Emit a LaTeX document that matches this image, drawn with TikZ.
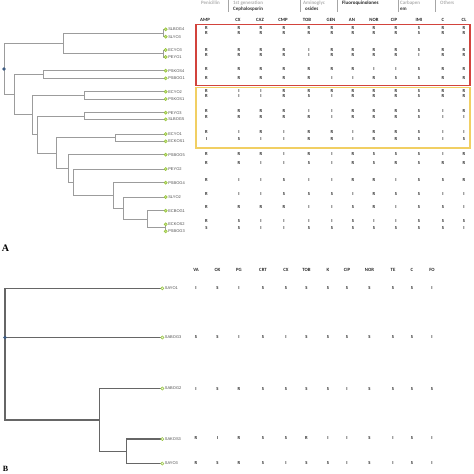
\documentclass[tikz,border=0pt]{standalone}
\usepackage{fontspec}
\setmainfont{Liberation Serif}
\newfontfamily\tabfont{Carlito}
\newfontfamily\leaffont{Liberation Sans}
\definecolor{treeA}{HTML}{9C9C9C}
\definecolor{treeB}{HTML}{666666}
\definecolor{leafg}{HTML}{93C23A}
\definecolor{leaffill}{HTML}{C4E080}
\definecolor{rootdotc}{HTML}{3E5C82}
\definecolor{redboxc}{HTML}{D2433C}
\definecolor{yelboxc}{HTML}{F1CF63}
\definecolor{faded}{HTML}{B0B0B0}
\tikzset{
 val/.style={font=\tabfont\bfseries\fontsize{4.6}{5}\selectfont, text=black!85, inner sep=0pt, anchor=center},
 hdr/.style={font=\tabfont\bfseries\fontsize{4.8}{5.5}\selectfont, text=black!85, inner sep=0pt},
 grp/.style={font=\tabfont\bfseries\fontsize{5}{6}\selectfont, inner sep=0pt, anchor=base west},
 leaflab/.style={font=\leaffont\fontsize{4}{4.5}\selectfont, text=black!70, inner sep=0pt, anchor=west},
 dotA/.style={circle, draw=leafg, fill=leaffill, line width=0.5pt, inner sep=0pt, minimum size=3.2pt},
 edgeA/.style={draw=treeA, line width=1pt},
 edgeB/.style={draw=treeB, line width=1.5pt},
 rootdot/.style={circle, fill=rootdotc, inner sep=0pt, minimum size=3.6pt},
 sepline/.style={draw=gray!70, line width=0.6pt},
}
\newcommand\rowA[3]{%
  \foreach \v [count=\c] in {#3} {
    \pgfmathsetmacro\cx{{206.5,239,261,284,309,332,353,374,396,419,443,464}[\c-1]}
    \node[val] (a\c-#1) at (\cx,#2) {\v};
  }}
\newcommand\rowB[3]{%
  \foreach \v [count=\c] in {#3} {
    \pgfmathsetmacro\cx{{196,217.5,239,263,286,306.5,328,347,369.5,393,412,432}[\c-1]}
    \node[val] (b\c-#1) at (\cx,#2) {\v};
  }}
\begin{document}
\begin{tikzpicture}[x=1pt,y=-1pt]
\useasboundingbox (0,0) rectangle (474,474);
\clip (0,0) rectangle (474,474);

% ---------- Part A: group headers ----------
\node[grp, text=faded, anchor=base east] (gPen) at (220,4.2) {Penicillin};
\node[grp, text=faded] (gGen1) at (233,4.2) {1st generation};
\node[grp, text=black!80] (gCeph) at (233,10) {Cephalosporin};
\node[grp, text=faded] (gAmi) at (303,4.2) {Aminoglyc};
\node[grp, text=black!80] (gOsi) at (305,10) {osides};
\node[grp, text=black!85] (gFlu) at (342,4.2) {Fluoroquinolones};
\node[grp, text=faded] (gCar) at (400,4.2) {Carbapen};
\node[grp, text=black!80] (gEm) at (400,10) {em};
\node[grp, text=faded] (gOth) at (440,4.2) {Others};
\foreach \sx in {228,300,337,398,435} \draw[sepline] (\sx,0) -- (\sx,11.5);

% column headers A
\foreach \h/\hx in {AMP/205,CX/238,CAZ/260,CMP/283,TOB/307,GEN/331,AN/352,NOR/374,CIP/394,IMI/419,C/443,CL/464}
  \node[hdr] (h\h) at (\hx,19.5) {\h};

% boxes
\draw[redboxc, line width=1.2pt] (196,24.5) rectangle (470,85.5);
\draw[yelboxc, line width=1.2pt] (196,87.5) rectangle (470,148);

% values A
\rowA{1}{28.5}{R,R,R,R,R,R,R,R,R,S,R,R}
\rowA{2}{33.5}{R,R,R,R,R,R,R,R,R,S,R,R}
\rowA{3}{50.5}{R,R,R,R,I,R,R,R,R,S,R,R}
\rowA{4}{55.5}{R,R,R,R,I,R,R,R,R,I,R,R}
\rowA{5}{69.5}{R,R,R,R,R,R,R,I,I,S,R,R}
\rowA{6}{78}{R,R,R,R,R,I,I,R,S,S,R,R}
\rowA{7}{91.5}{R,I,I,R,R,R,R,R,R,S,R,R}
\rowA{8}{96.5}{R,I,I,R,S,I,R,R,R,S,R,R}
\rowA{9}{111.5}{R,R,R,R,I,I,R,R,R,S,I,R}
\rowA{10}{117}{R,R,R,R,R,I,R,R,R,S,I,I}
\rowA{11}{132.5}{R,I,R,I,R,R,I,R,R,S,I,I}
\rowA{12}{139.5}{I,S,I,I,R,R,I,R,R,S,I,S}
\rowA{13}{154}{R,R,R,I,R,I,R,S,S,S,I,R}
\rowA{14}{163.5}{R,R,I,I,S,I,R,S,R,S,R,R}
\rowA{15}{180.5}{R,I,I,S,I,I,R,R,I,S,S,R}
\rowA{16}{194}{R,I,I,S,S,S,I,R,S,S,I,I}
\rowA{17}{207.5}{R,R,R,R,I,I,S,R,I,S,S,I}
\rowA{18}{221.5}{R,S,I,I,I,I,S,I,I,S,S,S}
\rowA{19}{228.5}{S,S,I,I,S,S,S,S,S,S,S,I}

% ---------- Part A: tree ----------
\foreach \n/\ly in {SLBOG4/29.3,SLYO3/36.7,ECYO3/50,PEYO1/57,PSKOS4/70.7,PSBOG1/78.3,ECYO2/91.7,PSKOS1/99,PEYO3/112.7,SLBOG5/119.3,ECYO1/134,ECKOS1/141.3,PSBOG5/154.7,PEYO2/169,PSBOG4/182.7,SLYO2/197,ECBOG1/210.7,ECKOS2/224.3,PSBOG3/231.3}
  \coordinate (\n) at (165.7,\ly);
\coordinate (RA) at (4,69);
\coordinate (TA) at (63.3,43.25);
\coordinate (P1) at (163,33);
\coordinate (P2) at (163,53.5);
\coordinate (BA) at (14,94.7);
\coordinate (P3) at (43.3,74.5);
\coordinate (CA) at (32.3,114.95);
\coordinate (P4) at (84,95.35);
\coordinate (DA) at (37.5,134.55);
\coordinate (P5) at (84,116);
\coordinate (EA) at (56,153.1);
\coordinate (P6) at (115,137.7);
\coordinate (FA) at (68.3,168.45);
\coordinate (GA) at (73.3,182.2);
\coordinate (HA) at (113.3,195.4);
\coordinate (IA) at (123.3,208.1);
\coordinate (JA) at (147.7,219.25);
\coordinate (KA) at (165,227.8);

\draw[edgeA] (RA) |- (TA);
\draw[edgeA] (RA) |- (BA);
\draw[edgeA] (TA) |- (P1);
\draw[edgeA] (TA) |- (P2);
\draw[edgeA] (P1) |- (SLBOG4);
\draw[edgeA] (P1) |- (SLYO3);
\draw[edgeA] (P2) |- (ECYO3);
\draw[edgeA] (P2) |- (PEYO1);
\draw[edgeA] (BA) |- (P3);
\draw[edgeA] (BA) |- (CA);
\draw[edgeA] (P3) |- (PSKOS4);
\draw[edgeA] (P3) |- (PSBOG1);
\draw[edgeA] (CA) |- (P4);
\draw[edgeA] (CA) |- (DA);
\draw[edgeA] (P4) |- (ECYO2);
\draw[edgeA] (P4) |- (PSKOS1);
\draw[edgeA] (DA) |- (P5);
\draw[edgeA] (DA) |- (EA);
\draw[edgeA] (P5) |- (PEYO3);
\draw[edgeA] (P5) |- (SLBOG5);
\draw[edgeA] (EA) |- (P6);
\draw[edgeA] (EA) |- (FA);
\draw[edgeA] (P6) |- (ECYO1);
\draw[edgeA] (P6) |- (ECKOS1);
\draw[edgeA] (FA) |- (PSBOG5);
\draw[edgeA] (FA) |- (GA);
\draw[edgeA] (GA) |- (PEYO2);
\draw[edgeA] (GA) |- (HA);
\draw[edgeA] (HA) |- (PSBOG4);
\draw[edgeA] (HA) |- (IA);
\draw[edgeA] (IA) |- (SLYO2);
\draw[edgeA] (IA) |- (JA);
\draw[edgeA] (JA) |- (ECBOG1);
\draw[edgeA] (JA) |- (KA);
\draw[edgeA] (KA) |- (ECKOS2);
\draw[edgeA] (KA) |- (PSBOG3);

\foreach \n in {SLBOG4,SLYO3,ECYO3,PEYO1,PSKOS4,PSBOG1,ECYO2,PSKOS1,PEYO3,SLBOG5,ECYO1,ECKOS1,PSBOG5,PEYO2,PSBOG4,SLYO2,ECBOG1,ECKOS2,PSBOG3}{
  \node[dotA] (d\n) at (\n) {};
  \node[leaflab, xshift=2.4pt] (l\n) at (\n) {\n};
}
\node[rootdot] (rdA) at (RA) {};

% label A
\node[font=\bfseries\fontsize{10}{12}\selectfont, inner sep=0pt] (labA) at (5.5,248) {A};

% ---------- Part B ----------
\foreach \h/\hx in {VA/196,OX/217.5,PG/239,CRT/263,CX/286,TOB/306.5,K/328,CIP/347,NOR/369.5,TE/393,C/412,FO/432}
  \node[hdr] (hb\h) at (\hx,270) {\h};

\rowB{1}{288.3}{I,S,I,S,S,S,S,S,S,S,S,I}
\rowB{2}{337.3}{S,S,I,S,I,S,S,S,S,S,S,I}
\rowB{3}{389}{I,S,R,S,S,S,S,I,S,S,S,S}
\rowB{4}{438.5}{R,I,R,S,S,R,I,I,S,I,S,I}
\rowB{5}{463.5}{R,S,R,S,I,S,S,I,S,I,S,I}

\foreach \n/\ly in {SAYO1/288.3,SABOG3/337.5,SABOG2/388.5,SAKOS3/439,SAYO3/463.5}
  \coordinate (\n) at (162.3,\ly);
\coordinate (RB) at (5,337.5);
\coordinate (QB) at (99.3,420);
\coordinate (Q2) at (126.7,451.25);

\draw[edgeB] (RB) |- (SAYO1);
\draw[edgeB] (RB) -- (SABOG3);
\draw[edgeB] (RB) |- (QB);
\draw[edgeB] (QB) |- (SABOG2);
\draw[edgeB] (QB) |- (Q2);
\draw[edgeB] (Q2) |- (SAKOS3);
\draw[edgeB] (Q2) |- (SAYO3);

\foreach \n in {SAYO1,SABOG3,SABOG2,SAKOS3,SAYO3}{
  \node[dotA, fill=white!70!leaffill] (d\n) at (\n) {};
  \node[leaflab, xshift=2.4pt] (l\n) at (\n) {\n};
}
\node[rootdot] (rdB) at (RB) {};

\node[font=\bfseries\fontsize{8}{9}\selectfont, inner sep=0pt, anchor=north] (labB) at (5.5,466.5) {B};
\end{tikzpicture}
\end{document}
